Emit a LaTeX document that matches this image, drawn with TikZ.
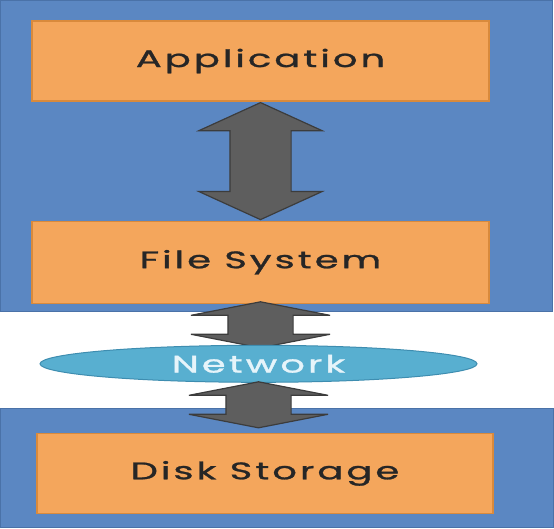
\documentclass[tikz,border=0pt]{standalone}
\usepackage{fontspec}
\setmainfont{Poppins}
\newfontfamily\widefont[LetterSpace=8, FakeBold=1.0]{Poppins}
\usetikzlibrary{shapes,arrows,calc,positioning}
\definecolor{panelblue}{HTML}{5B87C2}
\definecolor{paneledge}{HTML}{4A72A8}
\definecolor{boxorange}{HTML}{F4A65C}
\definecolor{boxedge}{HTML}{D98A3C}
\definecolor{arrowgrey}{HTML}{5E5E5E}
\definecolor{arrowedge}{HTML}{3C3C3C}
\definecolor{netblue}{HTML}{58AFD0}
\definecolor{netedge}{HTML}{3E8DB0}
\definecolor{nettext}{HTML}{E6F4FA}
\newcommand{\wide}[1]{\scalebox{1.6}[1]{\widefont #1}}
\tikzstyle{panel} = [fill=panelblue, draw=paneledge, line width=1pt]
\tikzstyle{layerbox} = [rectangle, fill=boxorange, draw=boxedge, line width=1.2pt,
text centered, minimum width=457pt, minimum height=80pt, inner sep=0pt,
font=\fontsize{24}{28}\selectfont, text=black!85]
\tikzstyle{cloud} = [ellipse, fill=netblue, draw=netedge, line width=1pt,
minimum width=437pt, minimum height=37pt, inner sep=0pt,
font=\fontsize{24}{28}\selectfont, text=nettext]
\tikzstyle{updown} = [double arrow, rotate=90, fill=arrowgrey, draw=arrowedge,
line width=1.2pt, inner xsep=0pt, inner ysep=30pt,
double arrow head extend=31pt, double arrow tip angle=131]
\tikzstyle{flatupdown} = [updown, inner ysep=32pt,
double arrow head extend=37pt, double arrow tip angle=158]

\begin{document}
\begin{tikzpicture}[x=1pt, y=1pt, node distance = 20pt]
\useasboundingbox (0,0) rectangle (554,-528);
\draw [panel] (0.5,-0.5) rectangle (552,-311);
\draw [panel] (0.5,-408) rectangle (553.5,-527.5);

\node [layerbox] (app) at (260.5,-61) {\wide{Application}};
\node [layerbox, below = 119pt of app, minimum height=82pt] (fs) {\wide{File System}};
\node [updown, minimum height=117pt] (a1) at ($(app.south)!0.5!(fs.north)$) {};
\node [flatupdown, minimum height=46pt] (a2) at ($(fs.south)+(0,-21pt)$) {};
\node [cloud, below = 41pt of fs.south, anchor=north, xshift=-2pt] (net) {\wide{Network}};
\node [flatupdown, minimum height=46pt] (a3) at ($(net.south)+(0,-22pt)$) {};
\node [layerbox, below = 50pt of net.south, anchor=north, xshift=6.5pt, minimum width=456pt] (disk) {\wide{Disk Storage}};
\end{tikzpicture}
\end{document}
